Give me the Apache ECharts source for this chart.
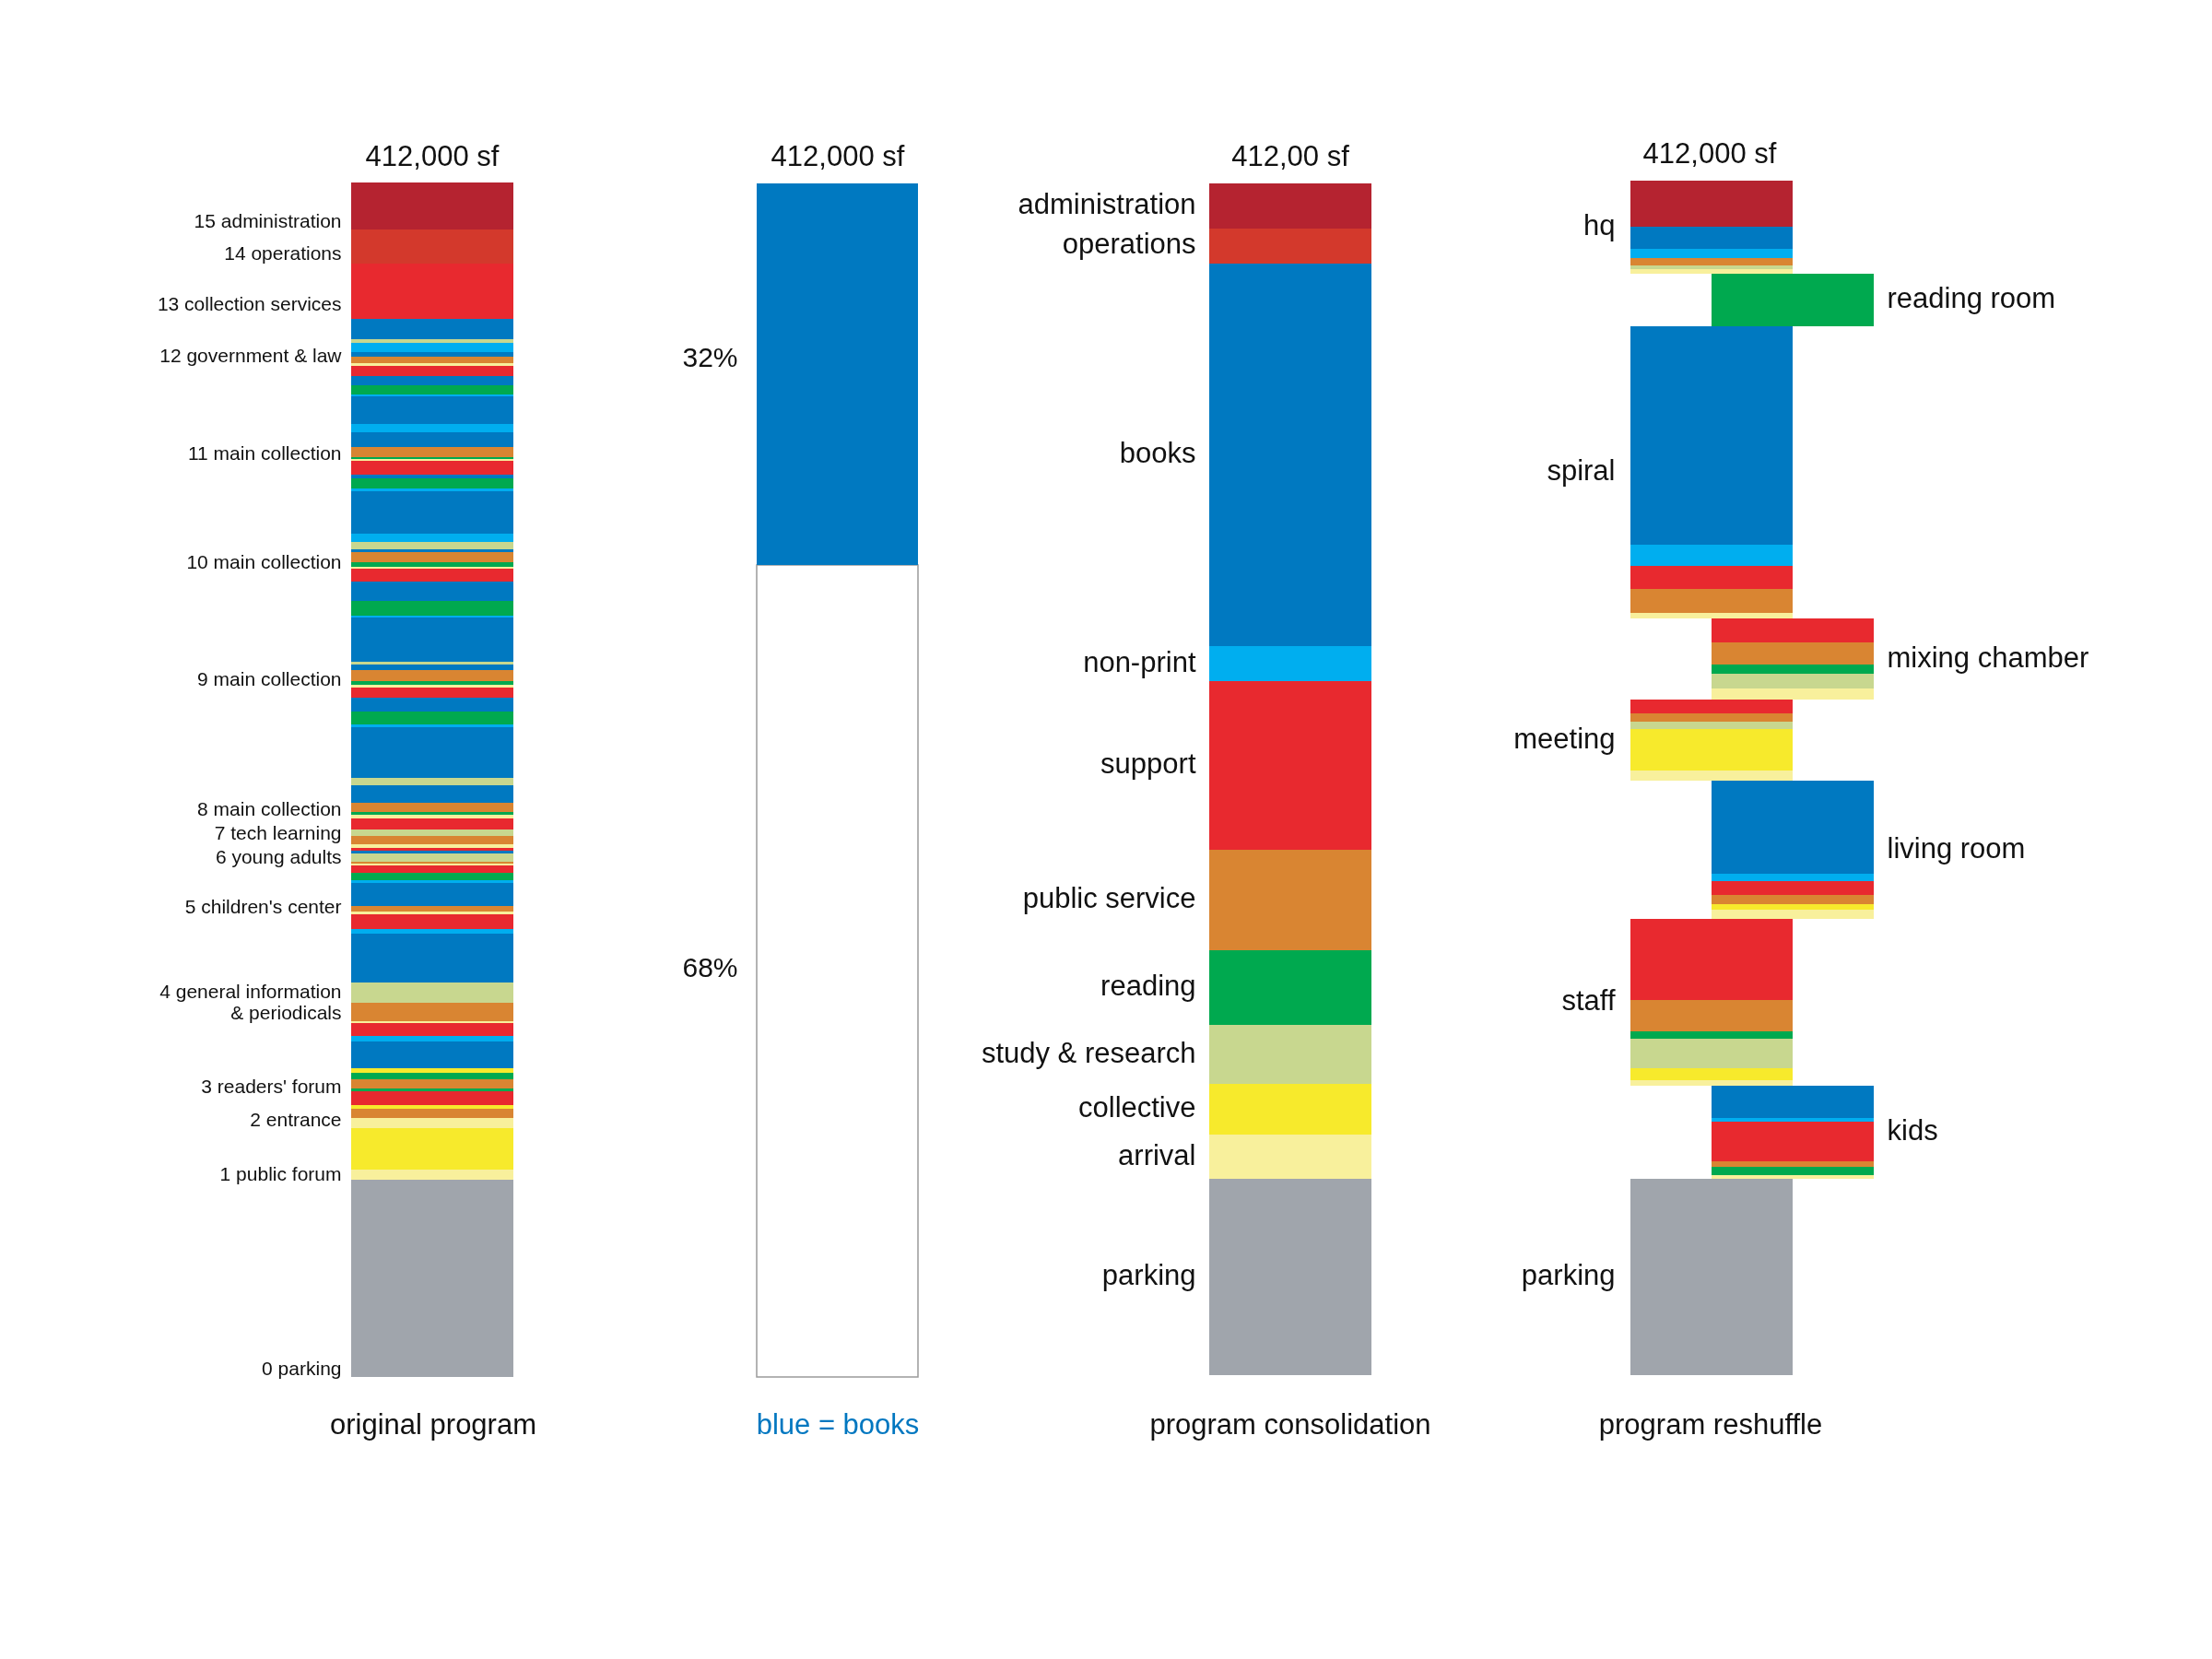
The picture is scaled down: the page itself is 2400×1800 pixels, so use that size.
<!DOCTYPE html>
<html>
<head>
<meta charset="utf-8">
<title>Library program</title>
<script src="https://cdn.jsdelivr.net/npm/echarts@6/dist/echarts.min.js"></script>
<style>
html, body { margin: 0; padding: 0; background: #fff; }
#chart { width: 2400px; height: 1800px; }
</style>
</head>
<body>
<div id="chart"></div>
<script>
// colour keys used in the stripe lists
const palette = {
  D: '#B52330', O: '#D3392C', R: '#E8292F', B: '#0079C1', C: '#00AEEF',
  G: '#00A94F', L: '#C8D78F', N: '#D98532', Y: '#F7EA2C', P: '#F8F09C', S: '#A0A5AC'
};

const TOTAL = 412; // thousand sf

// 1. original program, stripes top -> bottom (thousand sf)
const originalColors = [
  'D','O','R','B','L','C','B','N','P','R',
  'B','G','C','B','C','B','N','G','P','R',
  'B','G','C','B','C','L','B','N','G','P',
  'R','B','G','C','B','L','B','N','G','P',
  'R','B','G','C','B','L','B','N','G','P',
  'R','L','N','P','R','B','L','N','P','R',
  'G','C','B','N','P','R','C','B','L','N',
  'P','R','C','B','Y','G','N','G','R','Y',
  'N','P','Y','P','S'
];
const originalSizes = [
  16.2, 11.7, 19.1, 6.9, 1.5, 3.0, 1.8, 2.0, 1.0, 3.7,
  2.9, 3.3, 0.7, 9.5, 3.0, 5.0, 3.4, 0.8, 0.6, 4.7,
  1.4, 3.5, 0.8, 14.7, 2.8, 2.5, 1.0, 3.6, 1.4, 0.8,
  4.5, 6.4, 5.1, 0.7, 15.2, 1.0, 1.9, 4.0, 1.3, 0.8,
  3.4, 5.0, 4.2, 1.0, 17.7, 2.5, 5.9, 3.2, 1.0, 1.2,
  3.9, 2.3, 2.7, 1.4, 1.0, 0.9, 2.9, 0.5, 0.8, 2.5,
  2.4, 1.0, 7.8, 2.1, 1.0, 5.1, 1.4, 16.9, 7.1, 6.4,
  0.5, 4.5, 2.0, 9.1, 1.5, 2.4, 3.2, 1.0, 4.5, 1.3,
  3.4, 3.5, 14.3, 3.5, 67.9
];
const originalLabels = [
  '15 administration', '14 operations', '13 collection services', '12 government & law',
  '11 main collection', '10 main collection', '9 main collection', '8 main collection',
  '7 tech learning', '6 young adults', "5 children's center",
  '4 general information\n& periodicals', "3 readers' forum", '2 entrance',
  '1 public forum', '0 parking'
];
const originalLevels = [398.2, 387.0, 369.6, 351.9, 318.3, 280.6, 240.3, 195.3,
  187.3, 178.8, 161.9, 128.8, 99.9, 88.2, 69.6, 2.6];

// 2. share of books
const bookShares = [32, 68];
const bookShareLabels = ['32%', '68%'];
const bookShareLevels = [351.4, 140.7];

// 3. program consolidation
const consolidationNames = ['administration', 'operations', 'books', 'non-print', 'support',
  'public service', 'reading', 'study & research', 'collective', 'arrival', 'parking'];
const consolidationColors = ['D', 'O', 'B', 'C', 'R', 'N', 'G', 'L', 'Y', 'P', 'S'];
const consolidationSizes = [15.5, 12.2, 132.3, 12.1, 58.2, 34.7, 25.9, 20.5, 17.4, 15.4, 67.8];

// 4. program reshuffle
const reshuffleNames = ['hq', 'reading room', 'spiral', 'mixing chamber', 'meeting',
  'living room', 'staff', 'kids', 'parking'];
const reshuffleSides = ['left', 'right', 'left', 'right', 'left', 'right', 'left', 'right', 'left'];
const reshuffleColors = [
  ['D', 'B', 'C', 'N', 'L', 'P'],
  ['G'],
  ['B', 'C', 'R', 'N', 'P'],
  ['R', 'N', 'G', 'L', 'P'],
  ['R', 'N', 'L', 'Y', 'P'],
  ['B', 'C', 'R', 'N', 'Y', 'P'],
  ['R', 'N', 'G', 'L', 'Y', 'P'],
  ['B', 'C', 'R', 'N', 'G', 'P'],
  ['S']
];
const reshuffleSizes = [
  [15.8, 7.8, 3.2, 2.6, 1.0, 1.6],
  [18.2],
  [75.5, 7.3, 7.7, 8.4, 1.9],
  [8.2, 7.8, 3.0, 5.1, 4.0],
  [4.5, 2.9, 2.7, 14.3, 3.6],
  [32.1, 2.4, 4.9, 3.2, 1.9, 2.9],
  [28.1, 10.9, 2.4, 10.1, 4.2, 2.0],
  [11.0, 1.5, 13.5, 2.1, 2.8, 1.3],
  [67.6]
];

const FONT = '"Liberation Sans", Arial, Helvetica, sans-serif';
const INK = '#111111';

// stack a list of stripes downward from the top of the scale
function stackDown(colors, sizes, x0, x1, top, extra) {
  const items = [];
  sizes.forEach(function (s, i) {
    const y1 = top;
    top -= s;
    items.push({
      value: [x0, x1, top, y1, extra ? extra[i] : 0],
      itemStyle: { color: colors[i] }
    });
  });
  return { items: items, top: top };
}

function renderStripe(params, api) {
  const a = api.coord([api.value(0), api.value(3)]);
  const b = api.coord([api.value(1), api.value(2)]);
  const y0 = Math.round(a[1]);
  const y1 = Math.round(b[1]);
  const outlined = api.value(4) === 1;
  return {
    type: 'rect',
    shape: { x: a[0], y: y0, width: b[0] - a[0], height: y1 - y0 },
    style: {
      fill: api.visual('color'),
      stroke: outlined ? '#9b9b9b' : null,
      lineWidth: outlined ? 1.5 : 0
    }
  };
}

// column 1
const col1 = stackDown(originalColors.map(k => palette[k]), originalSizes, 0, 2, TOTAL).items;
const col1Labels = originalLabels.map((t, i) => ({ name: t, value: [0, originalLevels[i]] }));

// column 2
const shareSizes = bookShares.map(p => TOTAL * p / 100);
const col2 = stackDown([palette.B, '#ffffff'], shareSizes, 0, 2, TOTAL, [0, 1]).items;
col2.reverse(); // draw the outlined white block first
const col2Labels = bookShareLabels.map((t, i) => ({ name: t, value: [0, bookShareLevels[i]] }));

// column 3
const col3 = stackDown(consolidationColors.map(k => palette[k]), consolidationSizes, 0, 2, TOTAL).items;
let consTop = TOTAL;
const col3Labels = consolidationSizes.map((s, i) => {
  const mid = consTop - s / 2;
  consTop -= s;
  return { name: consolidationNames[i], value: [0, mid] };
});

// column 4
const col4 = [];
const col4Labels = [];
let reTop = TOTAL;
reshuffleNames.forEach(function (name, b) {
  const left = reshuffleSides[b] === 'left';
  const blockTop = reTop;
  const res = stackDown(reshuffleColors[b].map(k => palette[k]), reshuffleSizes[b],
    left ? 0 : 1, left ? 2 : 3, reTop);
  res.items.forEach(it => col4.push(it));
  reTop = res.top;
  col4Labels.push({
    name: name,
    value: [left ? 0 : 3, (blockTop + reTop) / 2],
    label: { position: left ? 'left' : 'right', distance: left ? 16 : 14 }
  });
});

const grids = [
  { left: 381, top: 198, width: 176, height: 1296, outerBoundsMode: 'none' },
  { left: 821, top: 199, width: 175, height: 1295, outerBoundsMode: 'none' },
  { left: 1312, top: 199, width: 176, height: 1293, outerBoundsMode: 'none' },
  { left: 1769, top: 196, width: 264, height: 1296, outerBoundsMode: 'none' }
];
const xMax = [2, 2, 2, 3];

function labelSeries(idx, data, size, distance) {
  return {
    type: 'scatter',
    xAxisIndex: idx,
    yAxisIndex: idx,
    silent: true,
    symbolSize: 1,
    itemStyle: { color: 'rgba(0,0,0,0)' },
    label: {
      show: true,
      position: 'left',
      distance: distance,
      formatter: '{b}',
      color: INK,
      opacity: 1,
      fontFamily: FONT,
      fontSize: size,
      lineHeight: Math.round(size * 1.1),
      align: 'right'
    },
    data: data,
    z: 5
  };
}

function stripeSeries(idx, data) {
  return {
    type: 'custom',
    xAxisIndex: idx,
    yAxisIndex: idx,
    silent: true,
    renderItem: renderStripe,
    encode: { x: [0, 1], y: [2, 3] },
    data: data
  };
}

const col4LabelSeries = labelSeries(3, col4Labels, 31, 16);
delete col4LabelSeries.label.align;

function text(x, y, str, size, color) {
  return {
    type: 'text',
    x: x,
    y: y,
    silent: true,
    style: {
      text: str,
      fill: color || INK,
      font: size + 'px ' + FONT,
      textAlign: 'center',
      textVerticalAlign: 'middle',
      align: 'center',
      verticalAlign: 'middle'
    }
  };
}

const chart = echarts.init(document.getElementById('chart'), null, { renderer: 'canvas' });
chart.setOption({
  backgroundColor: '#ffffff',
  animation: false,
  grid: grids,
  xAxis: grids.map((g, i) => ({ type: 'value', gridIndex: i, min: 0, max: xMax[i], show: false })),
  yAxis: grids.map((g, i) => ({ type: 'value', gridIndex: i, min: 0, max: TOTAL, show: false })),
  graphic: [
    text(469, 171, '412,000 sf', 31),
    text(909, 171, '412,000 sf', 31),
    text(1400, 171, '412,00 sf', 31),
    text(1855, 168, '412,000 sf', 31),
    text(470, 1547, 'original program', 31),
    text(909, 1547, 'blue = books', 31, '#0077C0'),
    text(1400, 1547, 'program consolidation', 31),
    text(1856, 1547, 'program reshuffle', 31)
  ],
  series: [
    stripeSeries(0, col1),
    stripeSeries(1, col2),
    stripeSeries(2, col3),
    stripeSeries(3, col4),
    labelSeries(0, col1Labels, 21, 10),
    labelSeries(1, col2Labels, 30, 20),
    labelSeries(2, col3Labels, 31, 14),
    col4LabelSeries
  ]
});
</script>
</body>
</html>
